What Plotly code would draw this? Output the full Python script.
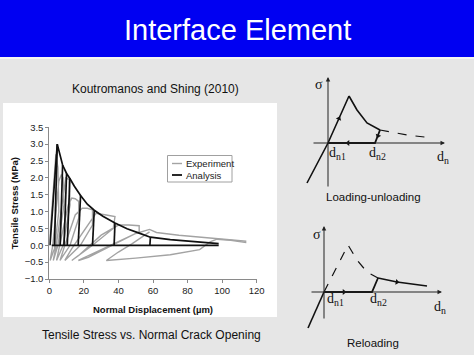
import plotly.graph_objects as go

W, H = 474, 355

# ---------------- main chart data ----------------
x_ticks = [0, 20, 40, 60, 80, 100, 120]
y_ticks = [-1.0, -0.5, 0.0, 0.5, 1.0, 1.5, 2.0, 2.5, 3.0, 3.5]
series_names = ["Experiment", "Analysis"]

# Experiment (gray hysteresis path, None = pen up)
exp_x = [0, 2, 3.8, 5, 5.5, 3, 0.5, 2, 5.5, 7, 8, 8.5, 5, 2.3, 4, 8.5, 9.5, 11.5, 12, 8, 4.2, 6,
         11, 13, 15, 17, 17, 12, 6.2, 9, 15, 19, 22, 25, 25, 18, 9, 13, 22, 27, 33, 38, 37, 25,
         13, 17, 30, 40, 46, 52, 52, 35, 16.8, 22.6, 40, 50, 58, 62, 75, 95, 114,
         None, 58, 48, 40, 33, 50, 70, 87, 93, 97, 105, 114]
exp_y = [0, 1.5, 2.7, 2.3, 1.0, -0.1, -0.45, 0, 1.9, 2.1, 2.0, 1.2, 0, -0.45, 0, 1.6, 2.0, 1.95, 1.2, 0, -0.45, 0,
         1.2, 1.4, 1.38, 1.3, 0.8, 0, -0.45, 0, 0.9, 1.1, 1.1, 1.05, 0.6, 0, -0.45, -0.1, 0.6, 0.95, 0.9, 0.85, 0.5, 0,
         -0.45, -0.3, 0.3, 0.6, 0.6, 0.58, 0.4, 0, -0.45, -0.36, 0.1, 0.35, 0.47, 0.38, 0.3, 0.2, 0.12,
         None, 0.4, 0.05, -0.2, -0.45, -0.38, -0.28, -0.13, 0.1, 0.18, 0.15, 0.08]

# Analysis: envelope, unloading lines, zero-stress baseline
ana_env_x = [0.4, 4.6, 7.7, 10.0, 11.9, 14.5, 18.1, 22, 26, 31, 38, 45, 52, 58.5, 70, 80, 90, 98]
ana_env_y = [0, 3.0, 2.38, 2.13, 1.98, 1.75, 1.48, 1.22, 1.04, 0.86, 0.66, 0.49, 0.36, 0.24, 0.17, 0.12, 0.08, 0.05]
ana_unl_top_x = [4.6, 7.7, 10.0, 11.9, 18.1, 26, 38, 58.5]
ana_unl_top_y = [3.0, 2.38, 2.13, 1.98, 1.48, 1.04, 0.66, 0.24]
ana_unl_bot_x = [3.0, 6.3, 8.5, 10.4, 16.7, 25, 37.5, 58.2]
ana_base_x = [1.4, 98]
ana_base_y = [0, 0]

ana_x, ana_y = list(ana_env_x) + [None], list(ana_env_y) + [None]
for xt, yt, xb in zip(ana_unl_top_x, ana_unl_top_y, ana_unl_bot_x):
    ana_x += [xt, xb, None]
    ana_y += [yt, 0, None]
ana_x += ana_base_x
ana_y += ana_base_y

# ---------------- schematic diagrams (arbitrary units) ----------------
# top: loading-unloading
t_axis_x = [-1.6, 11.7]
t_axis_y = [-4.5, 6.6]
t_load_x = [-2.1, 0, 2.1]
t_load_y = [-4.0, 0, 4.7]
t_soft_x = [2.1, 2.9, 3.9, 5.2]
t_soft_y = [4.7, 3.3, 2.0, 1.3]
t_dash_x = [5.2, 7.9, 10.5]
t_dash_y = [1.3, 0.8, 0.5]
t_unl_x = [5.2, 4.7, 0]
t_unl_y = [1.3, 0, 0]
t_mark_x = [1.1, 5.0, 2.0]
t_mark_y = [2.45, 0.7, 0]
t_mark_ang = [24, 200, 270]

# bottom: reloading
b_axis_x = [-1.4, 11.8]
b_axis_y = [-2.8, 6.6]
b_load_x = [-1.6, 0]
b_load_y = [-3.6, 0]
b_dash_x = [0, 2.4, 3.3, 4.3, 5.4]
b_dash_y = [0, 4.7, 3.2, 2.0, 1.4]
b_rel_x = [0, 4.8, 5.4]
b_rel_y = [0, 0, 1.4]
b_soft_x = [5.4, 7.3, 10.3]
b_soft_y = [1.4, 1.0, 0.6]
b_mark_x = [2.0, 7.3]
b_mark_y = [0, 1.0]
b_mark_ang = [90, 100]

SANS = "Liberation Sans, Arial, sans-serif"
SERIF = "Liberation Serif, Times New Roman, serif"
EXP_COLOR = "#a3a3a3"
ANA_COLOR = "#111111"

fig = go.Figure()

fig.add_trace(go.Scatter(x=exp_x, y=exp_y, mode="lines", name=series_names[0], showlegend=False,
                         line=dict(color=EXP_COLOR, width=1.4), connectgaps=False))
fig.add_trace(go.Scatter(x=ana_x, y=ana_y, mode="lines", name=series_names[1], showlegend=False,
                         line=dict(color=ANA_COLOR, width=1.7), connectgaps=False))

def line(x, y, xa, ya, width=1.5, dash="solid"):
    fig.add_trace(go.Scatter(x=x, y=y, xaxis=xa, yaxis=ya, mode="lines", showlegend=False,
                             hoverinfo="skip", line=dict(color="#111111", width=width, dash=dash)))

line(t_load_x, t_load_y, "x2", "y2", 1.6)
line(t_soft_x, t_soft_y, "x2", "y2", 1.6)
line(t_dash_x, t_dash_y, "x2", "y2", 1.2, "dash")
line(t_unl_x, t_unl_y, "x2", "y2", 1.8)
fig.add_trace(go.Scatter(x=t_mark_x, y=t_mark_y, xaxis="x2", yaxis="y2", mode="markers",
                         showlegend=False, hoverinfo="skip",
                         marker=dict(symbol="triangle-up", size=5, color="#111111", angle=t_mark_ang)))

line(b_load_x, b_load_y, "x3", "y3", 1.6)
line(b_dash_x, b_dash_y, "x3", "y3", 1.2, "dash")
line(b_rel_x, b_rel_y, "x3", "y3", 1.8)
line(b_soft_x, b_soft_y, "x3", "y3", 1.6)
fig.add_trace(go.Scatter(x=b_mark_x, y=b_mark_y, xaxis="x3", yaxis="y3", mode="markers",
                         showlegend=False, hoverinfo="skip",
                         marker=dict(symbol="triangle-up", size=5, color="#111111", angle=b_mark_ang)))

def px_x(p):
    return p / W

def px_y(p):
    return 1 - p / H

axis_font = dict(family=SANS, size=9.5, color="#222222")
fig.update_layout(
    template="none",
    width=W, height=H,
    margin=dict(l=0, r=0, t=0, b=0, pad=0, autoexpand=False),
    paper_bgcolor="#e6e6e6",
    plot_bgcolor="rgba(0,0,0,0)",
    showlegend=False,
    xaxis=dict(domain=[px_x(49.3), px_x(256.7)], range=[0, 120], tickvals=x_ticks, automargin=False,
               showgrid=False, zeroline=False, showline=True, linecolor="#8a8a8a", linewidth=1,
               ticks="outside", ticklen=3, tickcolor="#8a8a8a", tickfont=axis_font,
               title=dict(text="Normal Displacement (µm)", standoff=10,
                          font=dict(family=SANS, size=9.5, color="#111111", weight="bold"))),
    yaxis=dict(domain=[px_y(279), px_y(127.3)], range=[-1.0, 3.5], tickvals=y_ticks, automargin=False,
               tickformat=".1f",
               showgrid=False, zeroline=False, showline=True, linecolor="#8a8a8a", linewidth=1,
               ticks="outside", ticklen=3, tickcolor="#8a8a8a", tickfont=axis_font,
               title=dict(text="Tensile Stress (MPa)", standoff=4,
                          font=dict(family=SANS, size=9.5, color="#111111", weight="bold"))),
    xaxis2=dict(domain=[px_x(300), px_x(460)], range=[-2.8, 13.2], visible=False, anchor="y2"),
    yaxis2=dict(domain=[px_y(200), px_y(70)], range=[-5.7, 7.3], visible=False, anchor="x2"),
    xaxis3=dict(domain=[px_x(300), px_x(460)], range=[-2.4, 13.6], visible=False, anchor="y3"),
    yaxis3=dict(domain=[px_y(335), px_y(215)], range=[-4.3, 7.7], visible=False, anchor="x3"),
)

# slide decorations
fig.add_shape(type="rect", xref="paper", yref="paper", x0=0, x1=1, y0=px_y(57), y1=1,
              fillcolor="#0000f2", line=dict(width=0), layer="below")
fig.add_shape(type="rect", xref="paper", yref="paper", x0=0, x1=1, y0=px_y(59), y1=px_y(57),
              fillcolor="#f4f4f4", line=dict(width=0), layer="below")
fig.add_shape(type="rect", xref="paper", yref="paper", x0=px_x(3), x1=px_x(277),
              y0=px_y(317), y1=px_y(103), fillcolor="white", line=dict(width=0), layer="below")

# legend (box, samples, labels)
fig.add_shape(type="rect", xref="paper", yref="paper", x0=px_x(167.5), x1=px_x(232),
              y0=px_y(182), y1=px_y(155.5), fillcolor="white", line=dict(color="#a0a0a0", width=1))
for name, color, yy, wd in ((series_names[0], EXP_COLOR, 163.5, 1.4), (series_names[1], ANA_COLOR, 175, 1.8)):
    fig.add_shape(type="line", xref="paper", yref="paper", x0=px_x(172), x1=px_x(182),
                  y0=px_y(yy), y1=px_y(yy), line=dict(color=color, width=wd))
    fig.add_annotation(xref="paper", yref="paper", x=px_x(183.5), y=px_y(yy), text=name,
                       showarrow=False, xanchor="left", yanchor="middle",
                       font=dict(family=SANS, size=9.5, color="#222222"))

ann = [
    dict(text="Interface Element", x=px_x(237), y=px_y(30), font=dict(family=SANS, size=29, color="white")),
    dict(text="Koutromanos and Shing (2010)", x=px_x(155), y=px_y(89), font=dict(family=SANS, size=12, color="#111111")),
    dict(text="Tensile Stress vs. Normal Crack Opening", x=px_x(151), y=px_y(335), font=dict(family=SANS, size=12, color="#111111")),
    dict(text="Loading-unloading", x=px_x(373), y=px_y(197), font=dict(family=SANS, size=11.5, color="#111111")),
    dict(text="Reloading", x=px_x(373), y=px_y(343), font=dict(family=SANS, size=11.5, color="#111111")),
]
for a in ann:
    fig.add_annotation(xref="paper", yref="paper", showarrow=False, xanchor="center", yanchor="middle", **a)

# diagram axes with arrows and labels
for xa, ya, ax_x, ax_y in (("x2", "y2", t_axis_x, t_axis_y), ("x3", "y3", b_axis_x, b_axis_y)):
    fig.add_annotation(xref=xa, yref=ya, axref=xa, ayref=ya, x=ax_x[1], y=0, ax=ax_x[0], ay=0,
                       text="", showarrow=True, arrowhead=2, arrowsize=0.9, arrowwidth=1, arrowcolor="#222222")
    fig.add_annotation(xref=xa, yref=ya, axref=xa, ayref=ya, x=0, y=ax_y[1], ax=0, ay=ax_y[0],
                       text="", showarrow=True, arrowhead=2, arrowsize=0.9, arrowwidth=1, arrowcolor="#222222")

lab_font = dict(family=SERIF, size=14, color="#111111")
labels = [
    ("x2", "y2", -0.9, 5.8, "σ"), ("x2", "y2", 0.95, -1.0, "d<sub>n1</sub>"),
    ("x2", "y2", 4.95, -1.0, "d<sub>n2</sub>"), ("x2", "y2", 11.5, -1.45, "d<sub>n</sub>"),
    ("x3", "y3", -0.75, 5.8, "σ"), ("x3", "y3", 1.1, -0.7, "d<sub>n1</sub>"),
    ("x3", "y3", 5.4, -0.7, "d<sub>n2</sub>"), ("x3", "y3", 11.6, -1.55, "d<sub>n</sub>"),
]
for xa, ya, lx, ly, t in labels:
    fig.add_annotation(xref=xa, yref=ya, x=lx, y=ly, text=t, showarrow=False, font=lab_font)

fig.write_html("out.html", config={"displayModeBar": False},
               post_script="document.body.style.margin='0';document.body.style.overflow='hidden';")
